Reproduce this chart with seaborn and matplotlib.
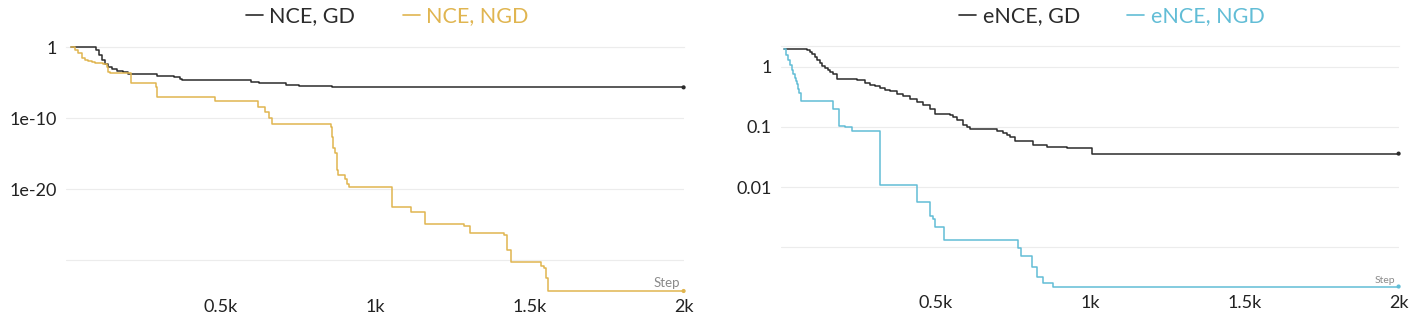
import matplotlib
matplotlib.use("Agg")
import matplotlib.pyplot as plt
from matplotlib.ticker import NullLocator
import pandas as pd
import seaborn as sns

# ---------------- data ----------------
nce_gd_step = [15, 95, 105, 115, 125, 135, 148, 165, 182, 200, 295, 350, 368, 375,
               598, 625, 712, 755, 862, 2000]
nce_gd_val = [1.0, 0.4, 0.079, 0.016, 4.5e-3, 1.8e-3, 7.9e-4, 4.5e-4, 3.2e-4, 1.8e-4,
              1e-4, 7e-5, 3.5e-5, 2.5e-5, 1.2e-5, 8.5e-6, 5.4e-6, 3.5e-6, 2.3e-6, 2.3e-6]

nce_ngd_step = [15, 28, 39, 49, 60, 71, 82, 93, 103, 120, 131, 136, 141, 150, 210, 290,
                294, 480, 620, 642, 658, 665, 856, 860, 865, 870, 876, 881, 903, 908,
                916, 1055, 1117, 1162, 1288, 1307, 1418, 1428, 1440, 1538, 1548, 1555,
                1562, 2000]
nce_ngd_val = [1.0, 0.42, 0.14, 0.028, 0.016, 0.013, 9.3e-3, 6.8e-3, 5.6e-3, 4.5e-3,
               1.9e-3, 3.7e-4, 2.7e-4, 2.2e-4, 8.5e-6, 2.9e-6, 1.1e-7, 2.75e-8, 4.4e-9,
               8.5e-10, 1e-10, 1.6e-11, 6.3e-12, 2.5e-13, 6.3e-15, 1.3e-15, 5e-18, 1e-18,
               3.2e-19, 5e-20, 2.5e-20, 3.2e-23, 6.3e-24, 1.3e-25, 6.3e-26, 7.9e-27,
               4e-27, 3.2e-29, 6.3e-31, 1.6e-31, 1e-31, 3.2e-33, 5e-35, 5e-35]

ence_gd_step = [10, 76, 84, 92, 100, 108, 116, 125, 133, 141, 150, 158, 168, 179, 233,
                245, 255, 270, 287, 303, 320, 336, 352, 373, 395, 416, 438, 460, 482,
                498, 546, 557, 568, 589, 600, 611, 698, 719, 730, 741, 757, 816, 860,
                924, 1005, 2000]
ence_gd_val = [1.95, 1.95, 1.88, 1.78, 1.62, 1.47, 1.31, 1.16, 1.04, 0.94, 0.87, 0.81,
               0.75, 0.63, 0.63, 0.61, 0.59, 0.54, 0.50, 0.47, 0.44, 0.41, 0.39, 0.35,
               0.32, 0.29, 0.26, 0.23, 0.20, 0.166, 0.158, 0.145, 0.13, 0.107, 0.098,
               0.091, 0.087, 0.079, 0.074, 0.069, 0.058, 0.050, 0.047, 0.045, 0.036,
               0.036]

ence_ngd_step = [10, 16, 22, 28, 33, 38, 44, 48, 52, 55, 58, 62, 168, 188, 205, 228,
                 319, 438, 482, 490, 498, 527, 768, 775, 811, 827, 849, 881, 2000]
ence_ngd_val = [1.95, 1.58, 1.29, 1.05, 0.88, 0.75, 0.65, 0.58, 0.52, 0.43, 0.36, 0.27,
                0.195, 0.105, 0.099, 0.087, 0.011, 5.75e-3, 3.3e-3, 3.0e-3, 2.2e-3,
                1.35e-3, 9.8e-4, 7.2e-4, 4.8e-4, 3.2e-4, 2.6e-4, 2.24e-4, 2.24e-4]

x_ticks = [500, 1000, 1500, 2000]
x_tick_labels = ["0.5k", "1k", "1.5k", "2k"]
left_y_ticks = [1, 1e-10, 1e-20, 1e-30]
left_y_labels = ["1", "1e-10", "1e-20", ""]
right_y_ticks = [1, 0.1, 0.01, 0.001]
right_y_labels = ["1", "0.1", "0.01", ""]

left_labels = ["NCE, GD", "NCE, NGD"]
right_labels = ["eNCE, GD", "eNCE, NGD"]

# ---------------- style ----------------
BLACK = "#2b2b2b"
GOLD = "#e0b550"
BLUE = "#62bdd6"
GRID = "#ececec"

sns.set_theme(style="white")
plt.rcParams["font.family"] = ["Lato", "DejaVu Sans"]

W, H = 1418, 322
fig = plt.figure(figsize=(W / 100, H / 100), dpi=100)
ax1 = fig.add_axes([66.4 / W, 1 - 291 / H, (683.6 - 66.4) / W, (291 - 47.3) / H])
ax2 = fig.add_axes([781.4 / W, 1 - 287 / H, (1398.6 - 781.4) / W, (287 - 46) / H])


def draw(ax, steps, vals, color, label):
    df = pd.DataFrame({"step": steps, "value": vals})
    sns.lineplot(data=df, x="step", y="value", ax=ax, color=color, lw=1.1,
                 drawstyle="steps-post", estimator=None, sort=False, label=label,
                 clip_on=False, zorder=3)
    sns.scatterplot(data=df.tail(1), x="step", y="value", ax=ax, color=color, s=9,
                    edgecolor="none", clip_on=False, zorder=4, legend=False)


draw(ax1, nce_gd_step, nce_gd_val, BLACK, left_labels[0])
draw(ax1, nce_ngd_step, nce_ngd_val, GOLD, left_labels[1])
draw(ax2, ence_gd_step, ence_gd_val, BLACK, right_labels[0])
draw(ax2, ence_ngd_step, ence_ngd_val, BLUE, right_labels[1])

for ax, yt, yl, ylim, legx, stepfs in [
    (ax1, left_y_ticks, left_y_labels, (5e-35, 1.0), 0.273, 9.5),
    (ax2, right_y_ticks, right_y_labels, (2.2e-4, 2.2), 0.784, 7.5),
]:
    ax.set_yscale("log")
    ax.set_xlim(0, 2000)
    ax.set_ylim(*ylim)
    ax.set_yticks(yt)
    ax.set_yticklabels(yl)
    ax.yaxis.set_minor_locator(NullLocator())
    ax.set_xticks(x_ticks)
    ax.set_xticklabels(x_tick_labels)
    ax.set_xlabel("")
    ax.set_ylabel("")
    ax.grid(axis="y", color=GRID, lw=0.8, zorder=0)
    ax.grid(axis="x", visible=False)
    for s in ["left", "right", "bottom"]:
        ax.spines[s].set_visible(False)
    ax.spines["top"].set_color(GRID)
    ax.spines["top"].set_linewidth(0.8)
    ax.tick_params(axis="y", length=0, pad=7, labelsize=13, labelcolor="#222222")
    ax.tick_params(axis="x", direction="inout", length=5, width=0.8, color="#dddddd",
                   pad=3, labelsize=13, labelcolor="#222222")
    ax.set_facecolor("white")
    ax.text(0.995, 0.01, "Step", transform=ax.transAxes, ha="right", va="bottom",
            fontsize=stepfs, color="#8a8a8a")
    leg = ax.legend(loc="center", bbox_to_anchor=(legx, 0.95),
                    bbox_transform=fig.transFigure, ncol=2, frameon=False,
                    handlelength=0.8, handletextpad=0.3, columnspacing=2.2,
                    fontsize=15.5, labelcolor="linecolor")
    for h in leg.get_lines():
        h.set_linewidth(1.2)

fig.savefig("out.png", dpi=100, facecolor="white")
